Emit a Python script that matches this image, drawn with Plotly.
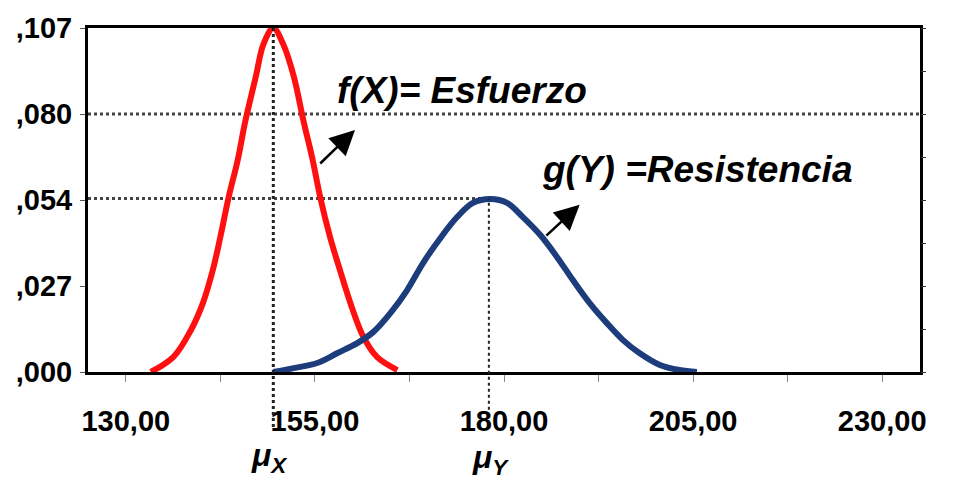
import plotly.graph_objects as go

# ---- data ----
red_x = [133.3, 136.3, 138.6, 140.2, 141.5, 142.5, 143.6, 144.8, 145.8, 147.2, 148.2, 149.5,
         150.8, 152.2, 153.5, 154.7, 155.7, 157.0, 158.4, 159.9, 161.4, 163.2, 165.9]
red_y = [0.000, 0.0047, 0.013, 0.0215, 0.0317, 0.042, 0.0544, 0.066, 0.078, 0.092, 0.102, 0.107,
         0.102, 0.092, 0.078, 0.066, 0.0544, 0.042, 0.031, 0.020, 0.011, 0.0047, 0.0006]

blue_x = [149.5, 152.2, 155.3, 158.0, 160.6, 162.7, 165.0, 167.2, 169.3, 171.6, 173.8, 175.9, 178.2,
          180.4, 182.5, 184.8, 187.0, 189.1, 191.3, 193.6, 195.7, 197.9, 200.6, 203.2, 205.5]
blue_y = [0.000, 0.0012, 0.0028, 0.0059, 0.009, 0.0124, 0.0184, 0.0255, 0.0339, 0.0417, 0.0482, 0.0526, 0.0538,
          0.0526, 0.0482, 0.0426, 0.0358, 0.0286, 0.0215, 0.0152, 0.010, 0.0059, 0.0022, 0.0006, 0.000]

mu_x = 149.5
mu_y = 178.0
peak_x = 0.107
peak_y = 0.054
ref_line = 0.08025

x_tickvals = [130, 155, 180, 205, 230]
x_ticktext = ["130,00", "155,00", "180,00", "205,00", "230,00"]
y_tickvals = [0, 0.02675, 0.0535, 0.08025, 0.107]
y_ticktext = [",000", ",027", ",054", ",080", ",107"]

x_range = [125, 235]
y_range = [0, 0.107]

FONT = "Liberation Sans"

fig = go.Figure()
fig.add_trace(go.Scatter(x=red_x, y=red_y, mode="lines", line=dict(color="#ff1010", width=6, shape="spline"),
                         showlegend=False, hoverinfo="skip", cliponaxis=False))
fig.add_trace(go.Scatter(x=blue_x, y=blue_y, mode="lines", line=dict(color="#1c3c7c", width=6, shape="spline"),
                         showlegend=False, hoverinfo="skip", cliponaxis=False))
# invisible trace for right-side tick axis
fig.add_trace(go.Scatter(x=[x_range[0]], y=[0], yaxis="y2", mode="markers", marker=dict(opacity=0),
                         showlegend=False, hoverinfo="skip"))

dot = dict(color="#444444", width=3, dash="dot")
fig.add_shape(type="line", xref="x", yref="y", x0=x_range[0], x1=x_range[1], y0=ref_line, y1=ref_line, line=dot, layer="below")
fig.add_shape(type="line", xref="x", yref="y", x0=x_range[0], x1=mu_y, y0=peak_y, y1=peak_y, line=dot, layer="below")
fig.add_shape(type="line", xref="x", yref="paper", x0=mu_x, x1=mu_x, y0=-0.16, y1=peak_x / y_range[1],
              line=dict(color="#222222", width=3, dash="dot"), layer="above")
fig.add_shape(type="line", xref="x", yref="paper", x0=mu_y, x1=mu_y, y0=-0.11, y1=peak_y / y_range[1],
              line=dict(color="#222222", width=2, dash="dot"), layer="above")

tfont = dict(family=FONT, size=37, color="black")
fig.add_annotation(x=174.5, y=0.0875, xref="x", yref="y", text="<b><i>f(X)= Esfuerzo</i></b>",
                   showarrow=False, font=tfont)
fig.add_annotation(x=205.5, y=0.063, xref="x", yref="y", text="<b><i>g(Y) =Resistencia</i></b>",
                   showarrow=False, font=tfont)
fig.add_annotation(x=160.3, y=0.0753, ax=155.5, ay=0.0644, xref="x", yref="y", axref="x", ayref="y",
                   text="", showarrow=True, arrowhead=2, arrowsize=2, arrowwidth=2.5, arrowcolor="black")
fig.add_annotation(x=190.0, y=0.052, ax=185.4, ay=0.042, xref="x", yref="y", axref="x", ayref="y",
                   text="", showarrow=True, arrowhead=2, arrowsize=2, arrowwidth=2.5, arrowcolor="black")
mufont = dict(family=FONT, size=32, color="black")
fig.add_annotation(x=mu_x - 0.5, y=-0.315, xref="x", yref="paper", text="<b><i>μ<sub>X</sub></i></b>",
                   showarrow=False, font=mufont)
fig.add_annotation(x=mu_y + 0.2, y=-0.32, xref="x", yref="paper", text="<b><i>μ<sub>Y</sub></i></b>",
                   showarrow=False, font=mufont)

fig.update_layout(
    width=980, height=496,
    margin=dict(l=80, r=68, t=20, b=132, autoexpand=False),
    paper_bgcolor="white", plot_bgcolor="white",
    font=dict(family=FONT, size=26, color="black"),
    xaxis=dict(range=x_range, tickvals=x_tickvals, ticktext=x_ticktext, showgrid=False, zeroline=False,
               showline=True, linecolor="black", linewidth=3, mirror=True, automargin=False,
               ticks="outside", ticklen=7, tickwidth=1, tickcolor="#888888",
               minor=dict(dtick=12.5, tick0=130, ticks="outside", ticklen=7, tickcolor="#888888"),
               tickfont=dict(family=FONT, size=29, color="black", weight="bold"),
               ticklabelstandoff=14),
    yaxis=dict(range=y_range, tickvals=y_tickvals, ticktext=y_ticktext, showgrid=False, zeroline=False,
               showline=True, linecolor="black", linewidth=3, mirror=True, automargin=False,
               ticks="outside", ticklen=5, tickcolor="#555555",
               tickfont=dict(family=FONT, size=29, color="black", weight="bold"),
               ticklabelstandoff=2),
    yaxis2=dict(range=y_range, overlaying="y", side="right", anchor="x", showgrid=False, zeroline=False,
                showticklabels=False, tickmode="linear", tick0=0, dtick=0.013375, automargin=False,
                ticks="outside", ticklen=5, tickcolor="#333333", showline=False),
)

fig.write_html("out.html")
